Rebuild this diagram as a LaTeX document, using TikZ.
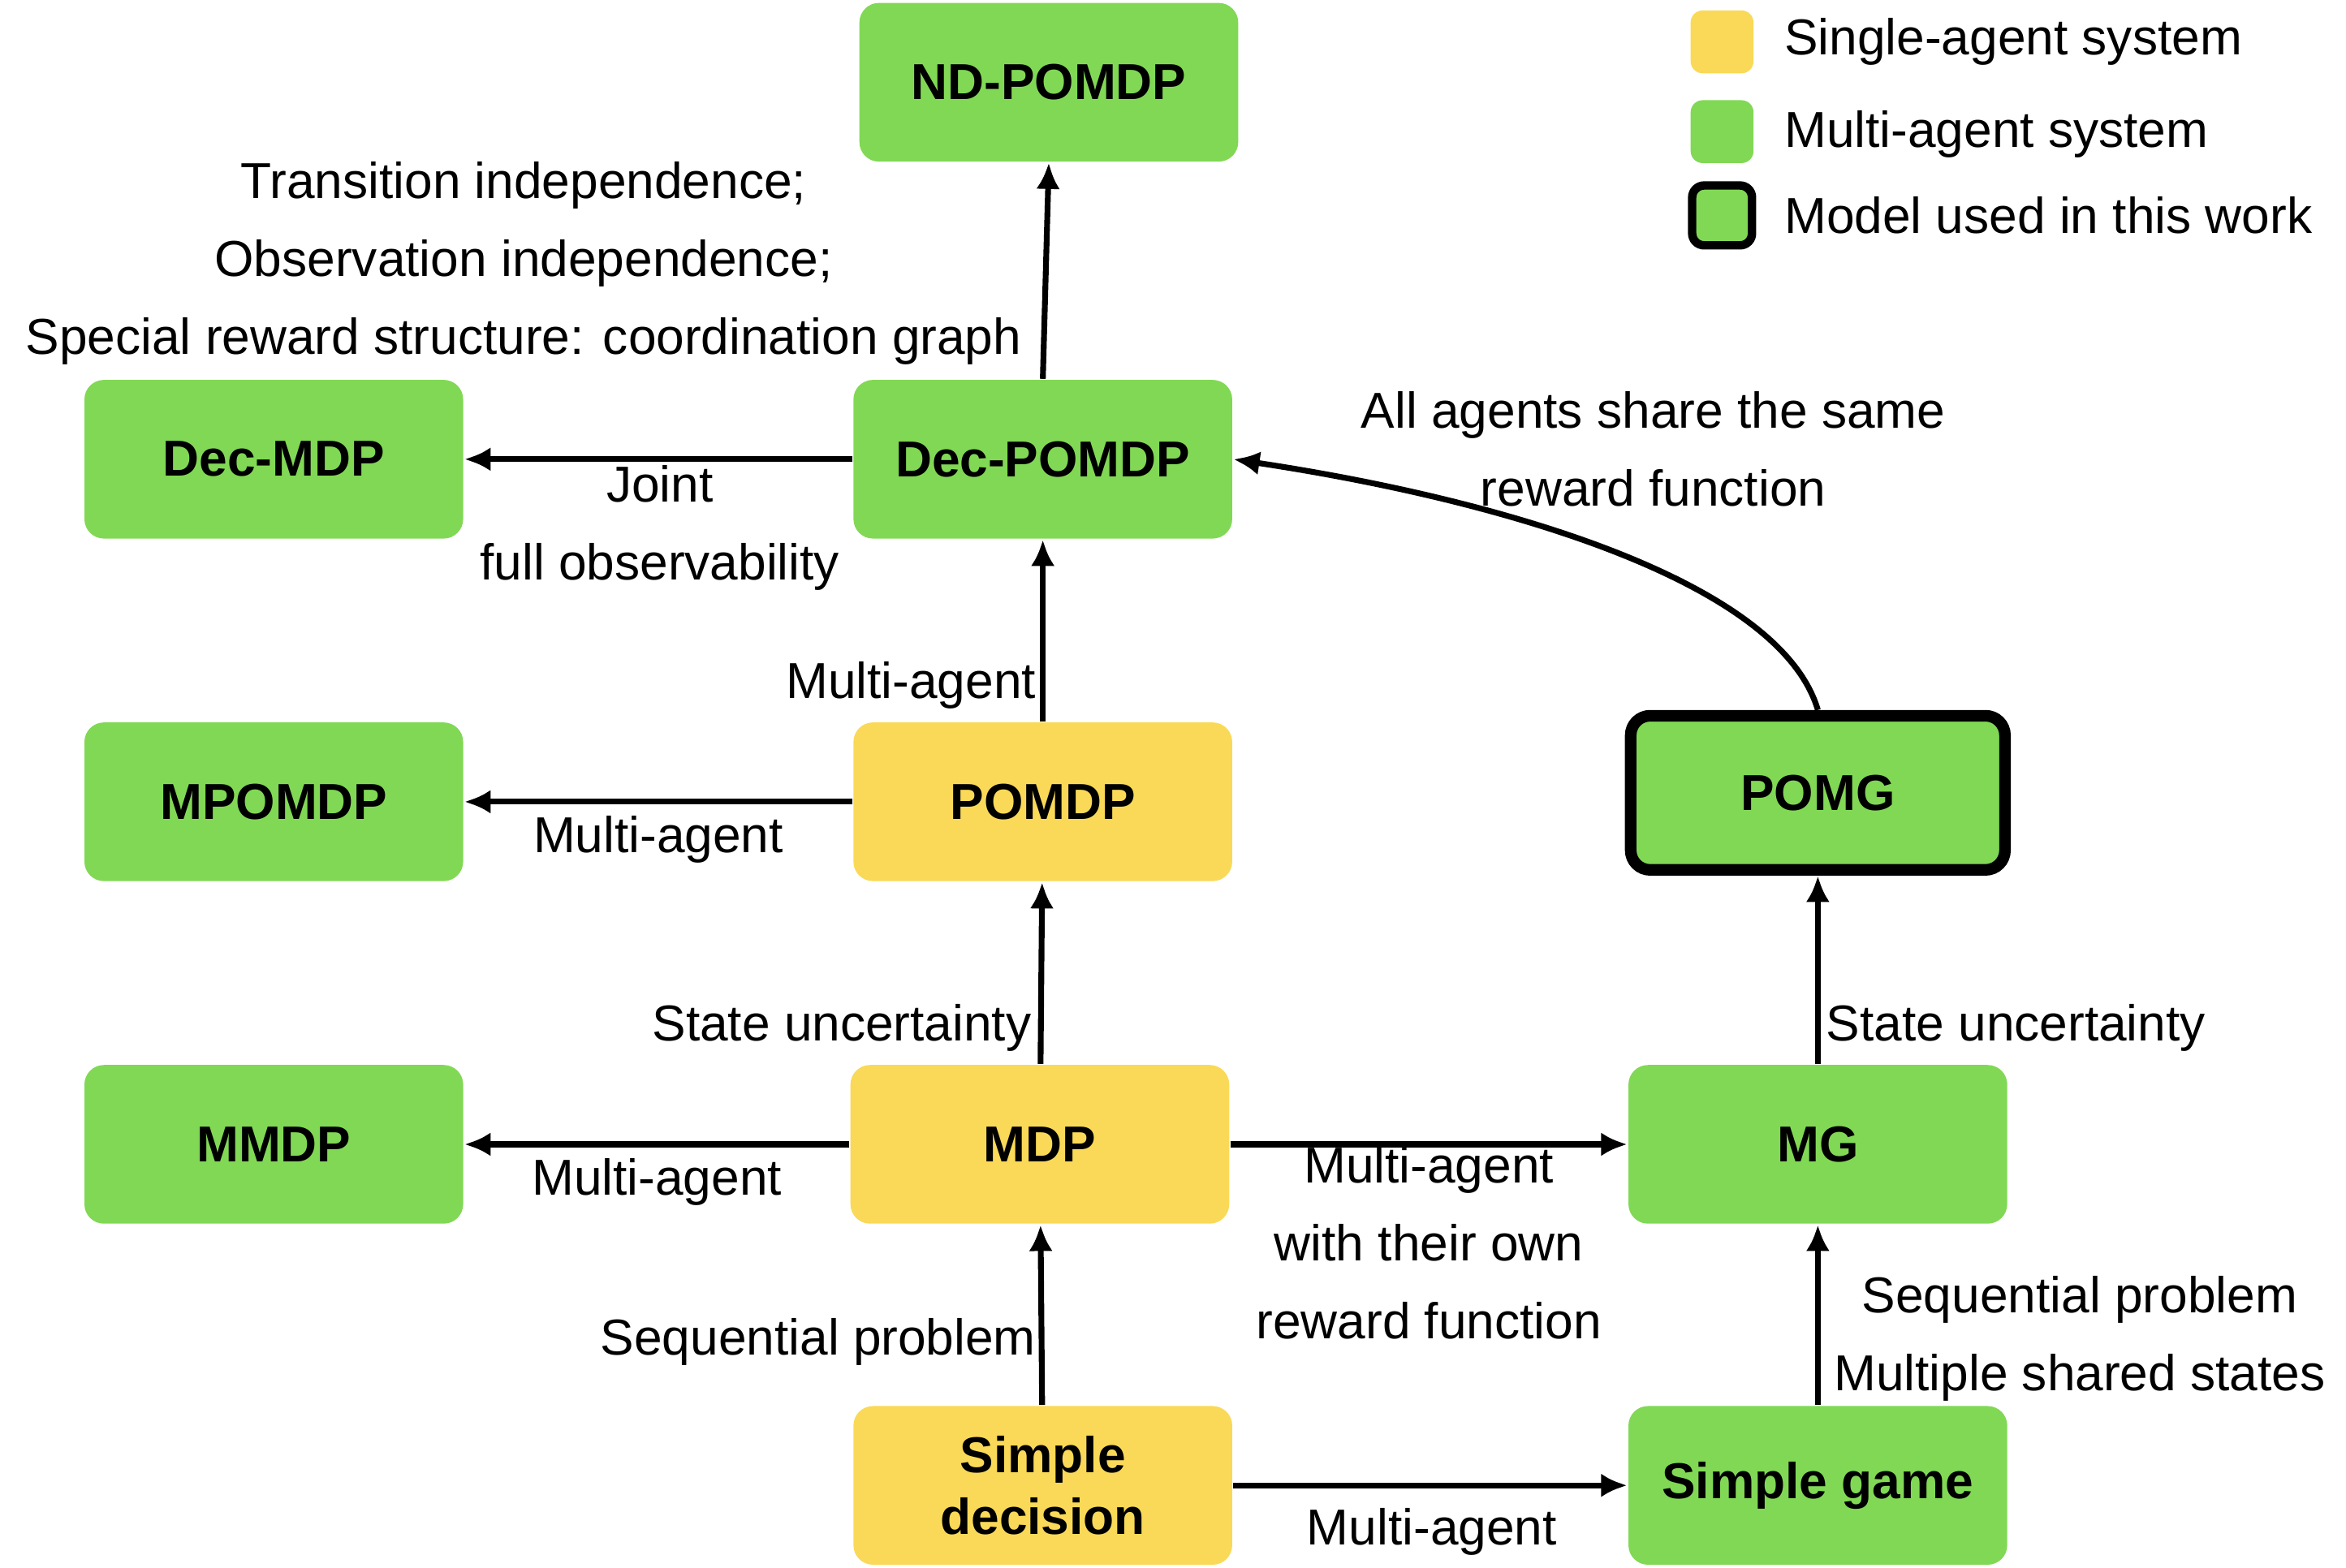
\documentclass[tikz,border=0pt]{standalone}
\usepackage{fontspec}
\setmainfont{Liberation Sans}
\usetikzlibrary{arrows.meta}
\definecolor{gr}{HTML}{81D855}
\definecolor{ye}{HTML}{F9D957}
\begin{document}
\begin{tikzpicture}[x=0.01cm,y=-0.01cm,font=\fontsize{9.6}{11.8}\selectfont,
 box/.style={rounded corners=0.13cm,minimum width=2.53cm,minimum height=1.06cm,inner sep=1pt,align=center,font=\fontsize{9.6}{11.8}\selectfont\bfseries},
 gbox/.style={box,fill=gr},
 ybox/.style={box,fill=ye},
 ar/.style={line width=1.1pt,-{Latex[length=5pt,width=4.5pt]}},
 lab/.style={inner sep=0pt,align=center}]
\useasboundingbox (0,0) rectangle (1568,1048);
\node[gbox] (nd) at (701,55) {ND-POMDP};
\node[gbox] (decmdp) at (183,307) {Dec-MDP};
\node[gbox] (decpomdp) at (697,307) {Dec-POMDP};
\node[gbox] (mpomdp) at (183,536) {MPOMDP};
\node[ybox] (pomdp) at (697,536) {POMDP};
\node[gbox,draw=black,line width=2.2pt,minimum width=2.50cm,minimum height=1.03cm] (pomg) at (1215,530) {POMG};
\node[gbox] (mmdp) at (183,765) {MMDP};
\node[ybox] (mdp) at (695,765) {MDP};
\node[gbox] (mg) at (1215,765) {MG};
\node[ybox] (sd) at (697,993) {Simple\\decision};
\node[gbox] (sg) at (1215,993) {Simple game};
% legend
\node[fill=ye,rounded corners=0.08cm,minimum size=0.42cm,inner sep=0pt] (l1) at (1151,28) {};
\node[fill=gr,rounded corners=0.08cm,minimum size=0.42cm,inner sep=0pt] (l2) at (1151,88) {};
\node[fill=gr,draw=black,line width=1.6pt,rounded corners=0.08cm,minimum size=0.40cm,inner sep=0pt] (l3) at (1151,144) {};
\node[lab,anchor=west] (t1) at (1192,28) {Single-agent system};
\node[lab,anchor=west] (t2) at (1192,90) {Multi-agent system};
\node[lab,anchor=west] (t3) at (1192,144) {Model used in this work};
% edges
\draw[ar] (decpomdp.north) -- (nd.south);
\node[lab,align=center] (ldn) at (350,176) {Transition independence;\\[3pt]Observation independence;\\[3pt]Special reward structure: coordination graph};
\draw[ar] (decpomdp) -- (decmdp);
\node[lab] (ljf) at (441,353) {Joint\\[3pt]full observability};
\draw[ar] (pomdp) -- (decpomdp);
\node[lab,anchor=east] (lma1) at (693,458) {Multi-agent};
\draw[ar] (pomdp) -- (mpomdp);
\node[lab] (lma2) at (440,561) {Multi-agent};
\draw[ar] (mdp) -- (pomdp);
\node[lab,anchor=east] (lsu1) at (690,687) {State uncertainty};
\draw[ar] (mdp) -- (mmdp);
\node[lab] (lma3) at (439,790) {Multi-agent};
\draw[ar] (mdp) -- (mg);
\node[lab] (lown) at (955,831) {Multi-agent\\[3pt]with their own\\[3pt]reward function};
\draw[ar] (sd) -- (mdp);
\node[lab,anchor=east] (lsp) at (693,897) {Sequential problem};
\draw[ar] (sd) -- (sg);
\node[lab] (lma4) at (957,1024) {Multi-agent};
\draw[ar] (sg) -- (mg);
\node[lab] (lsp2) at (1390,895) {Sequential problem\\[3pt]Multiple shared states};
\draw[ar] (mg) -- (pomg);
\node[lab,anchor=west] (lsu2) at (1220,687) {State uncertainty};
\draw[ar] (pomg.north) .. controls (1190,390) and (1010,335) .. (decpomdp.east);
\node[lab] (lall) at (1105,300) {All agents share the same\\[3pt]reward function};
\end{tikzpicture}
\end{document}
